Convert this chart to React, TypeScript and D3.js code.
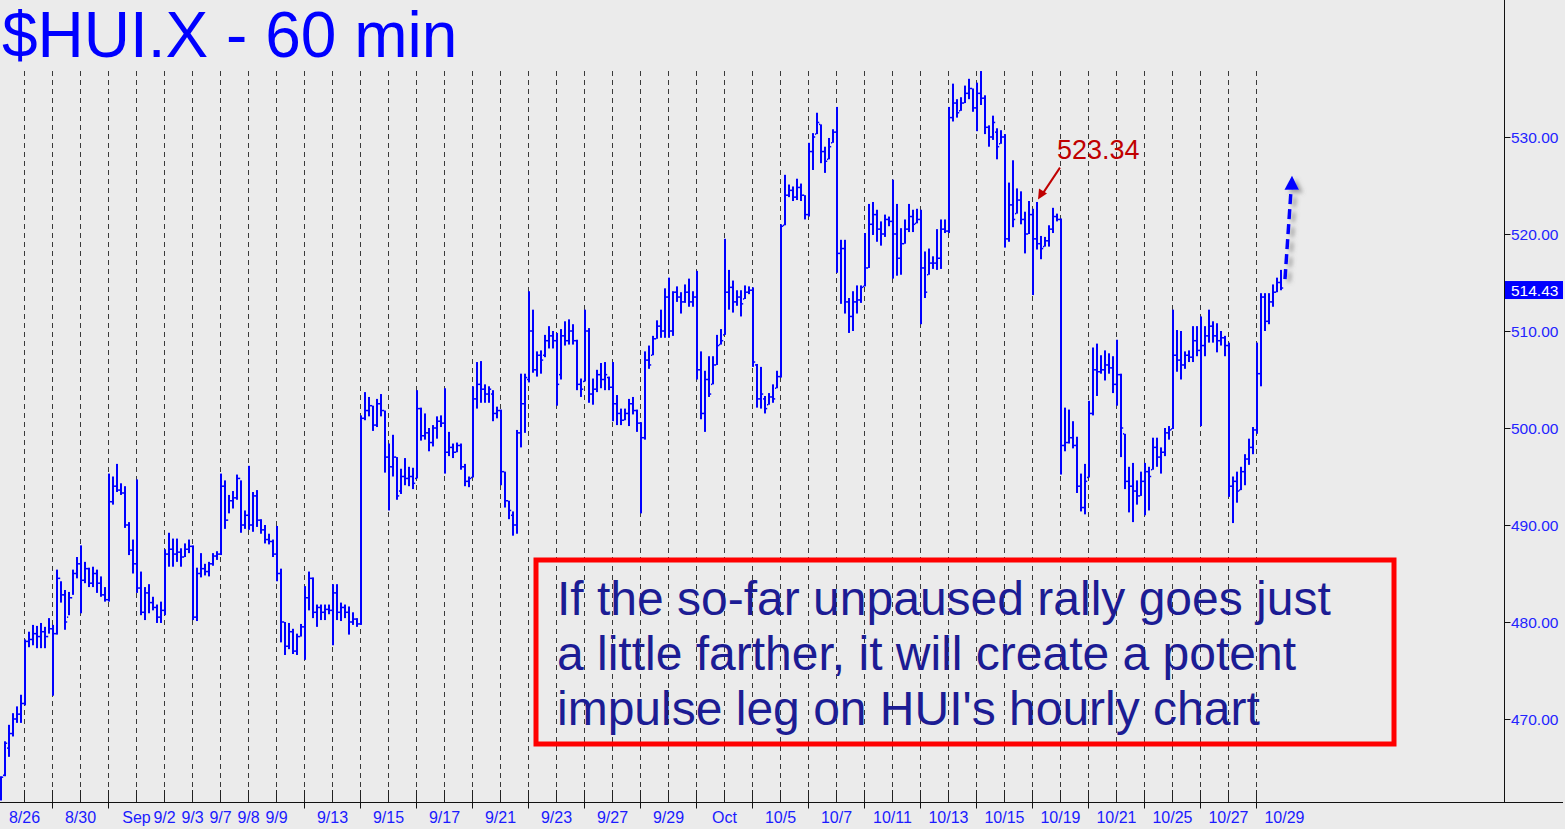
import React from 'react';
import * as d3 from 'd3';

// Hourly OHLC bars (last 6 bars of 8/25, then 7 bars per day from 8/26 to 10/28)
const highs = [
464.1,467.7,469.4,470.6,471.3,472.5,
478.2,479.0,479.7,479.6,479.9,479.5,480.4,
479.7,485.4,484.2,483.3,483.1,485.4,486.7,
487.9,486.2,485.6,485.7,485.4,484.7,483.6,
495.3,495.0,496.3,494.3,494.0,490.3,488.5,
494.7,485.2,483.6,483.9,482.6,481.8,482.1,
487.5,489.2,488.6,488.6,487.6,488.1,488.5,
487.9,485.6,487.1,486.0,486.2,487.1,487.3,
495.3,494.6,493.1,493.5,495.2,494.6,491.5,
496.1,493.4,493.6,490.6,490.0,489.1,488.5,
489.9,485.5,480.0,479.9,479.3,478.8,479.8,
483.7,485.2,484.6,481.8,481.8,481.8,481.8,
483.9,483.9,482.0,481.8,481.6,481.0,480.4,
501.3,503.7,503.2,502.3,503.0,503.5,501.8,
498.4,499.3,497.0,495.8,496.9,496.0,495.9,
503.9,502.1,501.5,500.0,500.3,501.2,501.3,
504.1,499.6,498.4,498.5,498.4,496.3,495.0,
504.3,506.8,506.9,504.5,504.3,503.9,502.2,
501.9,495.5,492.5,491.4,499.8,505.6,505.6,
514.1,512.2,507.9,508.0,509.6,510.5,510.0,
509.8,510.2,511.0,511.2,510.7,509.1,505.1,
512.2,510.3,505.1,506.0,506.7,506.8,505.3,
506.8,503.4,502.0,502.0,503.0,503.2,501.9,
500.6,507.9,508.5,509.5,511.1,512.2,514.4,
515.5,514.1,514.6,514.0,514.8,515.4,514.1,
516.2,507.9,505.9,507.4,507.4,509.6,510.2,
519.5,516.3,515.2,514.2,514.2,514.7,514.6,
514.5,506.6,506.3,503.3,503.6,504.5,505.9,
521.0,526.1,525.1,524.9,525.7,525.2,524.0,
529.4,530.4,532.5,531.3,529.0,529.9,530.8,
533.1,519.4,519.4,513.4,514.1,514.7,514.7,
520.1,523.1,523.3,522.5,521.3,522.0,521.8,
525.6,523.1,520.6,521.5,523.1,522.5,522.6,
522.5,518.2,518.5,517.7,520.5,521.5,521.5,
533.1,535.5,533.9,534.1,535.3,536.0,535.0,
535.6,536.8,534.3,531.2,532.2,530.9,530.7,
530.3,525.3,527.6,524.7,524.4,522.3,523.4,
522.6,523.3,519.8,519.7,520.9,522.7,522.1,
521.6,502.1,501.9,500.7,499.1,495.3,496.3,
502.8,508.3,508.7,507.5,508.0,507.7,507.4,
509.1,505.6,499.4,496.0,496.4,494.6,495.5,
496.4,496.0,499.0,499.0,498.0,500.0,500.2,
512.2,510.1,510.0,507.9,508.0,510.5,510.5,
511.5,510.5,512.2,511.0,510.8,510.0,509.5,
508.8,495.0,495.5,496.0,497.3,498.9,500.1,
508.8,513.9,513.9,513.9,514.8,515.5,516.3
];

const lows = [
461.6,464.1,466.1,468.2,469.6,469.6,
471.4,477.4,477.6,477.3,477.3,477.3,478.8,
472.4,478.7,482.0,479.2,480.7,482.8,484.5,
480.9,484.0,483.6,483.6,483.0,482.6,482.1,
482.1,492.1,493.4,493.1,489.7,486.9,485.0,
483.0,480.7,480.2,480.9,481.2,479.9,479.9,
480.7,485.7,485.7,486.2,485.7,486.7,487.1,
480.2,480.1,484.6,484.8,484.7,485.8,486.4,
486.9,489.6,491.2,491.7,492.6,489.2,489.6,
489.5,489.3,489.8,489.1,488.1,488.0,486.7,
484.2,477.9,476.6,477.2,476.7,476.6,478.5,
476.1,481.2,480.4,479.5,480.2,480.2,480.8,
477.6,480.2,480.1,480.4,478.7,479.7,479.5,
479.7,500.8,501.2,499.7,500.1,501.2,495.4,
491.5,495.0,492.6,493.2,494.1,494.0,493.7,
494.8,498.7,498.8,497.6,498.1,498.9,500.1,
495.3,497.1,496.9,497.5,495.7,494.0,493.9,
494.9,502.0,502.6,502.6,502.6,500.7,501.0,
494.1,491.8,490.6,488.9,489.1,498.0,499.5,
504.7,505.7,505.3,505.6,507.3,508.2,508.2,
502.3,505.0,508.5,508.6,508.6,503.9,503.2,
504.8,502.6,502.4,503.7,504.1,503.9,503.9,
500.7,500.3,500.3,500.8,500.2,501.4,499.6,
491.2,498.8,506.1,507.5,509.2,509.3,509.3,
509.3,509.5,513.0,511.8,512.9,512.5,512.5,
505.0,500.9,499.6,503.2,504.5,506.5,508.6,
509.6,512.2,511.9,512.6,511.5,513.3,513.8,
506.3,502.1,502.0,501.5,502.4,502.6,504.1,
505.2,520.9,523.8,523.4,523.5,523.4,521.5,
521.8,526.6,530.3,527.3,526.3,527.7,529.4,
516.0,512.8,511.8,509.8,510.0,511.8,512.9,
514.6,516.5,519.9,519.2,518.8,519.7,520.8,
515.4,515.7,515.8,519.0,520.2,520.2,521.1,
510.7,513.4,515.8,516.4,516.3,516.4,520.1,
520.1,531.6,532.0,532.7,533.5,533.9,532.6,
530.6,533.3,530.3,529.0,529.7,527.7,529.3,
518.6,519.2,520.7,522.1,521.0,518.0,520.0,
513.7,518.4,517.4,518.7,518.7,520.1,521.3,
495.2,497.6,498.4,497.9,493.3,491.4,491.1,
494.9,501.3,503.3,505.6,504.9,505.6,503.6,
502.3,497.0,493.7,491.3,490.3,492.1,493.0,
491.0,491.5,495.7,496.0,495.3,497.1,498.8,
499.9,505.8,505.0,506.1,506.8,506.8,507.4,
500.2,507.4,508.8,508.8,507.8,508.5,507.4,
492.9,490.2,492.3,493.6,494.1,496.2,497.3,
499.4,504.3,510.0,510.7,512.5,514.0,514.2
];

const opens = [
462.0,464.2,467.0,468.5,470.0,470.5,
471.6,478.0,478.2,478.8,478.5,479.0,478.5,
479.3,478.8,484.5,482.8,480.5,482.5,485.0,
486.0,484.3,485.5,484.0,485.0,484.0,482.8,
482.3,492.4,494.0,493.6,493.3,490.0,487.4,
486.0,483.5,481.0,483.0,482.0,481.5,480.5,
481.2,487.0,487.5,487.0,487.2,486.7,487.5,
487.8,480.5,485.0,485.5,485.2,486.0,486.8,
487.0,494.0,490.5,492.5,492.8,494.8,490.0,
491.0,490.0,493.0,490.5,489.5,488.5,488.3,
487.0,485.0,480.0,477.5,479.0,477.0,478.5,
479.5,482.5,484.5,481.0,481.5,481.0,481.3,
481.2,483.0,481.0,481.5,481.0,480.0,480.3,
479.8,501.0,501.8,502.3,500.3,502.5,501.8,
497.0,496.0,497.0,493.5,495.0,494.8,495.0,
494.8,502.0,499.2,499.5,498.5,500.0,500.7,
500.5,497.5,498.0,497.5,498.2,496.0,494.5,
494.9,503.0,504.5,504.0,503.5,503.5,501.5,
501.8,495.5,492.5,491.0,490.0,499.5,502.5,
505.0,510.0,506.0,507.5,507.5,509.0,509.5,
509.0,505.5,509.5,509.0,510.0,509.0,504.5,
504.8,510.0,503.5,504.0,505.5,505.0,505.2,
504.2,502.5,501.5,500.8,501.5,502.5,501.8,
500.5,499.0,507.0,507.5,509.2,510.5,510.0,
513.5,510.0,514.0,513.5,513.0,514.0,513.0,
513.5,506.0,501.5,505.0,504.5,506.5,508.6,
509.6,514.0,514.5,513.0,513.5,513.3,514.0,
514.2,506.5,503.0,503.0,502.4,503.2,504.1,
505.3,520.9,524.0,524.5,523.8,524.8,524.0,
522.0,528.5,530.3,531.3,528.5,527.7,529.4,
530.5,518.0,518.5,513.0,511.5,513.0,513.2,
514.6,516.5,521.0,522.0,520.5,520.0,521.5,
521.3,520.0,517.5,519.0,520.5,521.8,521.1,
521.5,516.5,515.8,517.0,517.0,517.5,520.5,
520.3,532.0,533.5,532.7,533.5,534.5,535.0,
533.0,534.5,534.0,531.0,530.0,530.5,529.3,
530.0,519.5,523.0,522.1,523.5,521.5,520.0,
522.0,519.5,519.0,518.7,519.3,520.5,521.8,
521.5,498.2,498.5,499.0,498.2,494.0,491.8,
494.9,501.5,506.0,505.8,506.0,506.5,506.2,
504.5,505.5,499.4,494.5,494.0,493.5,493.0,
494.5,495.5,495.7,498.0,497.0,497.5,499.5,
499.9,507.5,507.0,506.5,507.5,507.3,509.0,
508.0,508.5,509.5,510.5,509.5,509.0,509.3,
508.5,494.0,494.5,493.6,495.5,496.8,498.0,
499.8,505.6,513.5,511.0,513.0,514.0,515.0
];

const closes = [
464.0,467.5,468.5,470.0,470.5,471.6,
478.0,478.2,478.8,478.5,479.0,478.5,479.3,
478.8,484.5,482.8,480.0,482.5,485.0,486.0,
484.3,485.5,484.0,485.0,484.0,482.8,482.3,
492.4,494.0,493.6,493.3,490.0,487.4,486.0,
483.5,481.0,483.0,482.0,481.5,480.5,481.2,
487.0,487.5,487.0,487.2,486.7,487.5,487.8,
480.5,485.0,485.5,485.2,486.0,486.8,487.0,
494.0,490.5,492.5,492.8,494.8,490.0,491.0,
490.0,493.0,490.5,489.5,488.5,488.3,487.0,
485.0,480.0,477.5,479.0,477.0,478.5,479.5,
482.5,484.5,481.0,481.5,481.0,481.3,481.2,
483.0,481.0,481.5,481.0,480.0,480.3,479.8,
501.0,501.8,502.3,500.3,502.5,501.8,497.0,
496.0,497.0,493.0,495.0,494.8,495.0,494.3,
502.0,499.2,499.5,498.5,500.0,500.7,500.5,
497.5,498.0,497.5,498.2,496.0,494.5,494.8,
503.0,504.5,504.0,503.5,504.0,501.5,501.8,
495.5,492.5,491.5,490.0,499.5,502.5,505.2,
510.0,506.0,507.5,507.0,509.0,509.5,509.0,
504.5,509.5,509.0,510.0,509.0,504.5,504.0,
510.0,503.5,504.0,505.5,505.0,505.5,504.2,
502.5,501.5,500.8,501.5,502.5,501.8,500.5,
499.0,507.0,506.5,509.2,510.5,510.0,513.5,
510.0,514.0,513.5,513.0,514.0,513.0,513.5,
506.0,501.5,505.0,503.5,506.5,508.5,509.0,
514.0,514.5,513.0,513.5,512.8,514.0,514.2,
506.8,503.0,503.5,502.0,503.2,503.0,505.3,
520.8,524.0,524.5,523.8,524.8,524.0,522.0,
528.5,530.0,531.5,528.5,527.5,529.0,530.5,
518.0,518.5,513.0,511.5,513.0,513.2,514.5,
516.5,521.0,522.0,520.5,520.0,521.5,521.3,
520.0,517.5,519.0,520.5,521.8,521.0,521.5,
516.5,514.0,517.0,517.0,517.5,520.5,520.3,
532.0,533.5,532.5,533.5,534.5,535.0,533.0,
534.5,534.0,531.0,530.0,531.5,529.0,530.0,
519.5,523.0,521.5,523.5,521.5,520.0,522.0,
519.5,519.0,518.5,519.3,520.5,521.8,521.5,
498.2,498.5,499.0,498.2,494.0,491.8,494.5,
501.5,506.0,505.8,506.0,506.5,506.2,504.5,
505.5,500.0,494.5,494.0,493.5,493.0,494.5,
495.5,495.0,498.0,497.0,497.5,499.5,499.8,
507.5,507.0,506.5,507.5,507.3,509.0,508.0,
508.5,509.5,510.5,509.5,509.0,509.3,508.5,
494.0,494.5,493.5,495.5,496.8,498.0,499.8,
505.6,513.5,511.0,513.0,514.0,515.0,514.43
];

// Date labels, one for each trading day line (blank = unlabeled day)
const dayLabels = [
"8/26","","8/30","","Sep","9/2","9/3","9/7","9/8","9/9","","9/13","","9/15","","9/17","","9/21","","9/23","","9/27","","9/29","","Oct","","10/5","","10/7","","10/11","","10/13","","10/15","","10/19","","10/21","","10/25","","10/27","","10/29"
];

const priceTicks = [470, 480, 490, 500, 510, 520, 530];
const lastPrice = 514.43;
const markedHigh = 523.34;
const markedBar = 259;

const titleText = "$HUI.X - 60 min";
const noteLines = [
  "If the so-far unpaused rally goes just",
  "a little farther, it will create a potent",
  "impulse leg on HUI's hourly chart",
];

const BARS_BEFORE_FIRST_DAY = 6;
const BARS_PER_DAY = 7;

const FONT = '"Liberation Sans", Arial, Helvetica, sans-serif';

export default function App() {
  const W = 1565, H = 829;
  const n = highs.length;
  const x = d3.scaleLinear().domain([0, n - 1]).range([1, 1 + 4 * (n - 1)]);
  const y = d3.scaleLinear().domain([470, 530]).range([719, 137]);

  const axisX = 1504.5;
  const axisY = 802.5;

  const dayIdx = dayLabels.map((_, k) => BARS_BEFORE_FIRST_DAY + BARS_PER_DAY * k);
  const lineDays = dayIdx.filter((i) => i < n);

  const markX = x(markedBar);
  const markY = y(markedHigh);

  const arrowStartX = x(n - 1) + 4;
  const arrowStartY = y(lastPrice) - 9;
  const arrowTipY = y(526.0);
  const arrowTipX = arrowStartX + 7;

  return (
    <svg width={W} height={H} style={{ position: 'absolute', left: 0, top: 0, background: '#ebebeb' }}>
      <defs>
        <filter id="shadow" x="-50%" y="-20%" width="200%" height="140%">
          <feDropShadow dx="4" dy="3" stdDeviation="2" floodColor="#606060" floodOpacity="0.55" />
        </filter>
      </defs>
      <rect x={0} y={0} width={W} height={H} fill="#ebebeb" />

      {/* day separators */}
      {lineDays.map((i) => (
        <g key={'d' + i}>
          <line x1={x(i) - 0.5} x2={x(i) - 0.5} y1={71} y2={790} stroke="#3a3a3a" strokeWidth={1} strokeDasharray="5,4" />
          <line x1={x(i) - 0.5} x2={x(i) - 0.5} y1={790} y2={axisY} stroke="#222" strokeWidth={1} />
        </g>
      ))}

      {/* bottom axis */}
      <line x1={0} x2={1563} y1={axisY} y2={axisY} stroke="#111" strokeWidth={1} />
      {dayLabels.map((lab, k) => {
        const xi = x(dayIdx[k]) - 0.5;
        return lab ? (
          <text key={'l' + k} x={xi} y={823} textAnchor="middle" fontFamily={FONT} fontSize={16} fill="#1a1aff">{lab}</text>
        ) : (
          <line key={'l' + k} x1={xi} x2={xi} y1={axisY} y2={axisY + 6} stroke="#111" strokeWidth={1} />
        );
      })}

      {/* right axis */}
      <line x1={axisX} x2={axisX} y1={0} y2={axisY} stroke="#111" strokeWidth={1} />
      {priceTicks.map((v) => (
        <g key={'p' + v}>
          <line x1={axisX} x2={axisX + 6} y1={Math.round(y(v)) + 0.5} y2={Math.round(y(v)) + 0.5} stroke="#111" strokeWidth={1} />
          <text x={axisX + 6.5} y={y(v) + 6} fontFamily={FONT} fontSize={15.5} fill="#2323ff">{v.toFixed(2)}</text>
        </g>
      ))}
      <rect x={axisX + 0.5} y={y(lastPrice) - 7} width={58} height={18} fill="#0000ff" />
      <text x={axisX + 6.5} y={y(lastPrice) + 8} fontFamily={FONT} fontSize={15.5} fill="#ffffff">{lastPrice.toFixed(2)}</text>

      {/* OHLC bars */}
      <g fill="#0000ff">
        {highs.map((h, i) => {
          const cx = x(i);
          const yh = y(h), yl = y(lows[i]);
          const yo = y(opens[i]), yc = y(closes[i]);
          return (
            <g key={'b' + i}>
              <rect x={cx - 1} y={yh} width={2} height={Math.max(1, yl - yh)} />
              <rect x={cx - 2} y={yo - 0.75} width={1.2} height={1.5} />
              <rect x={cx + 0.8} y={yc - 0.75} width={1.4} height={1.5} />
            </g>
          );
        })}
      </g>

      {/* title */}
      <text x={2} y={57} fontFamily={FONT} fontSize={64} fill="#0000ff">{titleText}</text>

      {/* 523.34 annotation */}
      <text x={markX + 20} y={markY - 43} fontFamily={FONT} fontSize={27} fill="#c00000">{markedHigh.toFixed(2)}</text>
      <line x1={markX + 23} y1={markY - 34} x2={markX + 5} y2={markY - 7} stroke="#c00000" strokeWidth={2} />
      <polygon
        points={`${markX + 1},${markY - 2} ${markX + 2},${markY - 13} ${markX + 10},${markY - 8}`}
        fill="#c00000"
      />

      {/* projected move arrow */}
      <g filter="url(#shadow)">
        <line x1={arrowStartX} y1={arrowStartY} x2={arrowTipX - 0.8} y2={arrowTipY + 12} stroke="#0000ff" strokeWidth={3.5} strokeDasharray="10,5" />
        <polygon points={`${arrowTipX},${arrowTipY} ${arrowTipX - 7.5},${arrowTipY + 14} ${arrowTipX + 7},${arrowTipY + 14}`} fill="#0000ff" />
      </g>

      {/* comment box */}
      <rect x={536} y={560} width={858} height={184} fill="none" stroke="#ff0000" strokeWidth={5} />
      {noteLines.map((t, k) => (
        <text key={'n' + k} x={557} y={615 + k * 55} fontFamily={FONT} fontSize={48} fill="#1c1c94">{t}</text>
      ))}
    </svg>
  );
}
